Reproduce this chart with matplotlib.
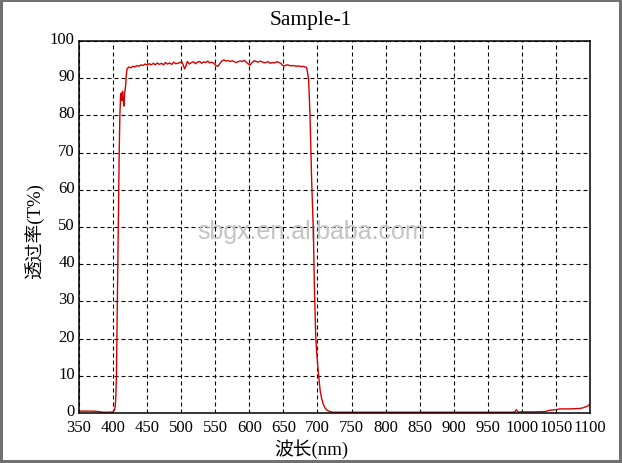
import numpy as np
import matplotlib
matplotlib.use("Agg")
import matplotlib.pyplot as plt
from matplotlib.transforms import ScaledTranslation

# wavelength (nm) and transmittance (%)
wavelength = [
    350, 360, 370, 378, 385, 395, 400, 402, 403, 404, 405, 406, 407, 408, 409,
    410, 411, 412, 413, 414, 415, 416, 417, 418.5, 419.5, 420.5,
    423, 426, 429, 432, 435, 438, 441, 444, 447, 450, 453, 456, 459, 462, 465,
    468, 471, 474, 477, 480, 483, 486, 489, 492, 495, 498, 501, 503, 505, 507,
    509, 512, 515, 518, 521, 524, 527, 530, 533, 536, 539, 542, 545, 548, 551,
    554, 557, 560, 563, 566, 569, 572, 575, 578, 581, 584, 587, 590, 593, 596,
    599, 601, 604, 607, 610, 613, 616, 619, 622, 625, 628, 631, 634, 637, 640,
    643, 646, 649, 652, 655, 658, 661, 664, 667, 670, 673, 676, 679, 682, 684,
    685.5, 687, 689, 691.5, 694, 695.5, 697.5, 699, 701.5, 704, 706, 708.5,
    711, 713.5, 718, 723, 740, 780, 850, 900, 950, 985, 990, 992, 994, 1000,
    1020, 1035, 1040, 1045, 1050, 1056, 1070, 1085, 1090, 1093, 1097, 1100,
]
transmittance = [
    0.5, 0.5, 0.5, 0.4, 0.2, 0.2, 0.3, 0.8, 1.5, 4.0, 10.5, 25, 40, 55, 70,
    80, 85, 86, 84, 86.5, 84, 82.5, 86, 88, 91, 92.5,
    93.0, 92.8, 93.2, 93.0, 93.4, 93.2, 93.6, 93.4, 93.8, 93.5, 93.9, 93.6,
    94.0, 93.6, 94.1, 93.7, 94.0, 93.6, 94.2, 93.8, 94.1, 93.7, 94.3, 93.9,
    94.0, 94.2, 94.4, 93.5, 92.5, 93.3, 94.5, 93.8, 94.2, 94.4, 93.9, 94.3,
    94.5, 94.0, 94.4, 94.2, 94.6, 94.1, 94.3, 94.0, 93.4, 93.2, 94.0, 94.7,
    94.9, 94.6, 94.7, 94.5, 94.7, 94.4, 94.2, 94.5, 94.6, 94.5, 94.8, 94.2,
    93.8, 93.5, 94.2, 94.7, 94.5, 94.3, 94.6, 94.4, 94.1, 94.3, 94.4, 94.0,
    94.2, 94.1, 94.4, 94.3, 94.0, 93.4, 93.3, 93.6, 93.5, 93.3, 93.4, 93.3,
    93.2, 93.3, 93.1, 93.2, 93.0, 92.9,
    91.5, 89.8, 80.4, 62.4, 49, 33.8, 20.4, 15.9, 10.5, 6.0, 4.0, 2.4,
    1.4, 0.8, 0.4, 0.2, 0.2, 0.2, 0.2, 0.2, 0.2, 0.2, 0.3, 0.9, 0.3, 0.3,
    0.3, 0.4, 0.7, 0.8, 0.9, 1.1, 1.1, 1.2, 1.4, 1.6, 1.9, 2.4,
]

x_ticks = np.arange(350, 1101, 50)
y_ticks = np.arange(0, 101, 10)

plt.rcParams['font.family'] = ['Liberation Serif', 'Noto Sans CJK SC']

fig = plt.figure(figsize=(6.22, 4.64), dpi=100)
fig.patch.set_edgecolor('#707070')
fig.patch.set_linewidth(3)
ax = fig.add_axes([0.127, 0.1078, 0.8215, 0.8017])

ax.plot(wavelength, transmittance, color='#d40000', linewidth=1.0, zorder=3)

ax.set_xlim(350, 1100)
ax.set_ylim(0, 100)
ax.set_xticks(x_ticks)
ax.set_yticks(y_ticks)
ax.tick_params(length=0, labelsize=12, colors='black')
ax.tick_params(axis='x', pad=4)
ax.tick_params(axis='y', pad=3)
for lbl in ax.get_yticklabels():
    lbl.set_transform(lbl.get_transform() + ScaledTranslation(0, 4 / 100, fig.dpi_scale_trans))

ax.grid(True, color='black', linestyle=(0, (3.6, 2.7)), linewidth=0.8, zorder=1)
for sp in ax.spines.values():
    sp.set_linewidth(1.1)
    sp.set_zorder(4)

ax.text(0.455, 0.49, 'sbgx.en.alibaba.com', transform=ax.transAxes,
        ha='center', va='center', fontsize=18, family='Liberation Sans',
        color='#c4c4c4', zorder=2)

fig.text(0.5, 0.955, 'Sample-1', ha='center', va='center', fontsize=15.5)
fig.text(0.5, 0.031, '波长(nm)', ha='center', va='center', fontsize=13.5)
fig.text(0.055, 0.502, '透过率(T%)', ha='center', va='center', fontsize=13.5,
         rotation=90)

fig.savefig('out.png', dpi=100, edgecolor=fig.get_edgecolor())
